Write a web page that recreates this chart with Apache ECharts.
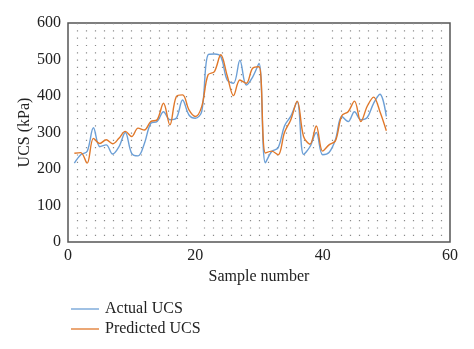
<!DOCTYPE html>
<html>
<head>
<meta charset="utf-8">
<script src="https://cdn.jsdelivr.net/npm/echarts@6/dist/echarts.min.js"></script>
<style>
  html, body { margin: 0; padding: 0; background: #fff; }
  #chart { width: 474px; height: 349px; }
</style>
</head>
<body>
<div id="chart"></div>
<script>
// sample numbers 1..50
const samples = [
  1, 2, 3, 4, 5, 6, 7, 8, 9, 10,
  11, 12, 13, 14, 15, 16, 17, 18, 19, 20,
  21, 22, 23, 24, 25, 26, 27, 28, 29, 30,
  31, 32, 33, 34, 35, 36, 37, 38, 39, 40,
  41, 42, 43, 44, 45, 46, 47, 48, 49, 50
];
const actualUCS = [
  216, 239, 248, 313, 261, 266, 241, 261, 300, 243,
  236, 270, 325, 330, 357, 335, 339, 389, 348, 339,
  357, 513, 515, 508, 444, 435, 498, 430, 452, 489,
  217, 248, 258, 318, 345, 384, 240, 261, 300, 239,
  245, 280, 344, 330, 357, 335, 341, 380, 405, 344
];
const predictedUCS = [
  243, 245, 216, 284, 270, 280, 269, 284, 303, 289,
  312, 307, 330, 335, 380, 321, 398, 403, 362, 344,
  371, 458, 467, 513, 456, 401, 444, 435, 476, 480,
  244, 249, 239, 300, 335, 386, 289, 268, 318, 249,
  266, 277, 346, 357, 386, 330, 372, 397, 357, 305
];
const xTicks = [0, 20, 40, 60];
const yTicks = [0, 100, 200, 300, 400, 500, 600];

const serif = 'Liberation Serif';
const chart = echarts.init(document.getElementById('chart'));

const pairs = (vals) => samples.map((s, i) => [s, vals[i]]);

chart.setOption({
  animation: false,
  grid: {
    left: 68, right: 24, top: 23, bottom: 107,
    show: true, borderColor: '#555', borderWidth: 1.5, backgroundColor: 'transparent'
  },
  legend: {
    orient: 'vertical',
    left: 66, top: 296,
    icon: 'rect',
    itemWidth: 28, itemHeight: 1.3, itemGap: 4,
    textStyle: { fontFamily: serif, fontSize: 16, color: '#222', lineHeight: 14, padding: [0, 0, 0, 1] },
    data: ['Actual UCS', 'Predicted UCS']
  },
  xAxis: {
    type: 'value',
    min: xTicks[0], max: xTicks[xTicks.length - 1], interval: 20,
    name: 'Sample number',
    nameLocation: 'middle', nameGap: 26,
    nameTextStyle: { fontFamily: serif, fontSize: 16, color: '#222' },
    axisLine: { show: false },
    axisTick: { show: false },
    axisLabel: { fontFamily: serif, fontSize: 16, color: '#222', margin: 6 },
    splitLine: { show: false },
    minorTick: { show: false, splitNumber: 14 },
    minorSplitLine: {
      show: true,
      lineStyle: { color: '#8a8a8a', width: 1.2, type: [1.2, 6.1] }
    }
  },
  yAxis: {
    type: 'value',
    min: yTicks[0], max: yTicks[yTicks.length - 1], interval: 100,
    name: 'UCS (kPa)',
    nameLocation: 'middle', nameGap: 35, nameMoveOverlap: false,
    nameTextStyle: { fontFamily: serif, fontSize: 16, color: '#222' },
    axisLine: { show: false },
    axisTick: { show: false },
    axisLabel: { fontFamily: serif, fontSize: 16, color: '#222', margin: 7 },
    splitLine: { show: false }
  },
  series: [
    {
      name: 'Actual UCS',
      type: 'line',
      data: pairs(actualUCS),
      smooth: 0.35,
      symbol: 'none',
      lineStyle: { color: '#6c9fd6', width: 1.4 },
      itemStyle: { color: '#6c9fd6' },
      z: 3
    },
    {
      name: 'Predicted UCS',
      type: 'line',
      data: pairs(predictedUCS),
      smooth: 0.35,
      symbol: 'none',
      lineStyle: { color: '#e0782a', width: 1.4 },
      itemStyle: { color: '#e0782a' },
      z: 4
    }
  ]
});
</script>
</body>
</html>
